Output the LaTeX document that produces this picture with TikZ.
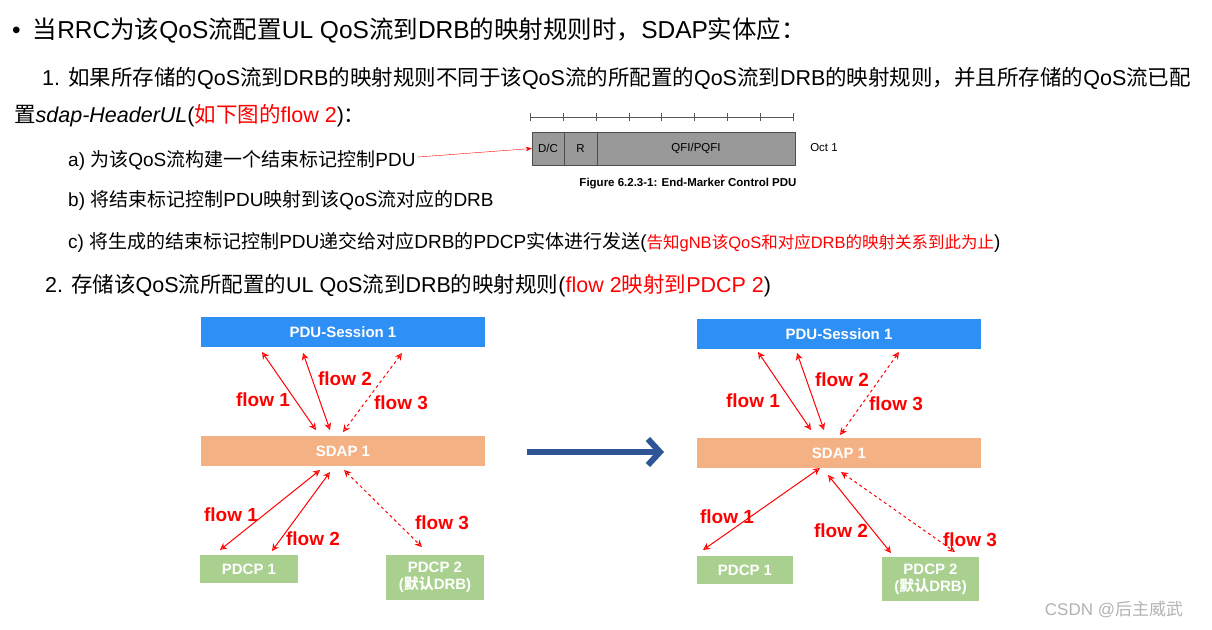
\documentclass[tikz,border=0pt]{standalone}
\usepackage{fontspec}
\setmainfont{Liberation Sans}
\newfontfamily\cjk{Noto Sans CJK SC}
\XeTeXinterchartokenstate=1
\newXeTeXintercharclass\CJKcls
\makeatletter
\count@="3000
\loop\XeTeXcharclass\count@=\CJKcls\advance\count@ 1\ifnum\count@<"A000\repeat
\count@="FF00
\loop\XeTeXcharclass\count@=\CJKcls\advance\count@ 1\ifnum\count@<"FFF0\repeat
\makeatother
\XeTeXinterchartoks 0 \CJKcls={\cjk}
\XeTeXinterchartoks 4095 \CJKcls={\cjk}
\XeTeXinterchartoks \CJKcls 0={\rmfamily}
\XeTeXinterchartoks \CJKcls 4095={\rmfamily}
\usetikzlibrary{arrows.meta}
\definecolor{rd}{HTML}{FF0000}
\definecolor{blu}{HTML}{2E8FF5}
\definecolor{org}{HTML}{F4B183}
\definecolor{grn}{HTML}{A9D08E}
\definecolor{dkb}{HTML}{2F5597}
\begin{document}
\begin{tikzpicture}[x=1pt,y=-1pt,
  txt/.style={anchor=west,inner sep=0pt,font=\fontsize{21.5}{24}\selectfont},
  sub/.style={txt,font=\fontsize{19}{22}\selectfont},
  box/.style={draw=none,inner sep=0pt,text=white,font=\fontsize{15}{17}\selectfont\bfseries},
  fl/.style={rd,line width=1pt,{Stealth[open,length=7pt,width=7pt]}-{Stealth[open,length=7pt,width=7pt]}},
  fld/.style={fl,dashed},
  lab/.style={text=rd,font=\fontsize{19}{21}\selectfont\bfseries,inner sep=0pt}]
\useasboundingbox (0,0) rectangle (1212,629);
\node[txt,font=\fontsize{24.5}{27}\selectfont] (t0) at (12,30) {•\hspace{12pt}当RRC为该QoS流配置UL QoS流到DRB的映射规则时，SDAP实体应：};
\node[txt] (t1) at (42,78) {1. 如果所存储的QoS流到DRB的映射规则不同于该QoS流的所配置的QoS流到DRB的映射规则，并且所存储的QoS流已配};
\node[txt] (t2) at (14,116) {置\textit{sdap-HeaderUL}(\textcolor{rd}{如下图的flow 2})：};
\node[sub] (ta) at (68,160) {a) 为该QoS流构建一个结束标记控制PDU};
\node[sub] (tb) at (68,200) {b) 将结束标记控制PDU映射到该QoS流对应的DRB};
\node[sub] (tc) at (68,242) {c) 将生成的结束标记控制PDU递交给对应DRB的PDCP实体进行发送(\textcolor{rd}{\fontsize{16.5}{19}\selectfont 告知gNB该QoS和对应DRB的映射关系到此为止})};
\node[txt] (t3) at (45,286) {2. 存储该QoS流所配置的UL QoS流到DRB的映射规则(\textcolor{rd}{flow 2映射到PDCP 2})};
% figure
\draw[gray!70!black] (530,117) -- (793,117);
\foreach \i in {0,...,8} \draw[gray!70!black] ({530+\i*32.9},113) -- ({530+\i*32.9},121);
\node[draw=black!70,fill=gray!80,minimum width=32pt,minimum height=33pt,inner sep=0pt,font=\fontsize{11.5}{13}\selectfont] (dc) at (548,148.5) {D/C};
\node[draw=black!70,fill=gray!80,minimum width=33pt,minimum height=33pt,inner sep=0pt,font=\fontsize{11.5}{13}\selectfont] (r) at (580.5,148.5) {R};
\node[draw=black!70,fill=gray!80,minimum width=198pt,minimum height=33pt,inner sep=0pt,font=\fontsize{11.5}{13}\selectfont] (q) at (696,148.5) {QFI/PQFI};
\node[font=\fontsize{11.5}{13}\selectfont] (oct) at (824,148) {Oct 1};
\node[font=\fontsize{11.5}{13}\selectfont\bfseries] (cap) at (688,184) {Figure 6.2.3-1: End-Marker Control PDU};
\coordinate (ae) at (418,157);
\draw[rd,-{Stealth[length=6pt]}] (ae) -- (dc.west);
% left diagram
\node[box,fill=blu,minimum width=284pt,minimum height=30pt] (p1) at (343,332) {PDU-Session 1};
\node[box,fill=org,minimum width=284pt,minimum height=30pt] (s1) at (343,451) {SDAP 1};
\node[box,fill=grn,minimum width=98pt,minimum height=28pt] (c1) at (249,569) {PDCP 1};
\node[box,fill=grn,minimum width=98pt,minimum height=45pt,align=center] (d1) at (435,577.5) {PDCP 2\\(默认DRB)};
\coordinate (a1) at (262,352); \coordinate (a2) at (316,430);
\coordinate (b1) at (303,353); \coordinate (b2) at (330,430);
\coordinate (e1) at (402,353); \coordinate (e2) at (343,432);
\coordinate (f1) at (320,470); \coordinate (f2) at (220,550);
\coordinate (g1) at (330,472); \coordinate (g2) at (272,551);
\coordinate (h1) at (344,470); \coordinate (h2) at (422,547);
\draw[fl] (a1) -- (a2); \draw[fl] (b1) -- (b2); \draw[fld] (e1) -- (e2);
\draw[fl] (f1) -- (f2); \draw[fl] (g1) -- (g2); \draw[fld] (h1) -- (h2);
\node[lab] at (263,400) {flow 1}; \node[lab] at (345,379) {flow 2}; \node[lab] at (401,403) {flow 3};
\node[lab] at (231,515) {flow 1}; \node[lab] at (313,539) {flow 2}; \node[lab] at (442,523) {flow 3};
% big arrow
\coordinate (m1) at (527,452); \coordinate (m2) at (664,452);
\draw[dkb,line width=6pt,-{Straight Barb[length=12pt,width=26pt,line width=6pt]}] (m1) -- (m2);
% right diagram
\node[box,fill=blu,minimum width=284pt,minimum height=30pt] (p2) at (839,334) {PDU-Session 1};
\node[box,fill=org,minimum width=284pt,minimum height=30pt] (s2) at (839,453) {SDAP 1};
\node[box,fill=grn,minimum width=96pt,minimum height=28pt] (c2) at (745,570) {PDCP 1};
\node[box,fill=grn,minimum width=97pt,minimum height=44pt,align=center] (d2) at (930.5,579) {PDCP 2\\(默认DRB)};
\coordinate (A1) at (758,352); \coordinate (A2) at (811,430);
\coordinate (B1) at (797,353); \coordinate (B2) at (824,430);
\coordinate (E1) at (899,352); \coordinate (E2) at (840,435);
\coordinate (F1) at (820,468); \coordinate (F2) at (703,550);
\coordinate (G1) at (828,475); \coordinate (G2) at (891,553);
\coordinate (H1) at (841,472); \coordinate (H2) at (955,552);
\draw[fl] (A1) -- (A2); \draw[fl] (B1) -- (B2); \draw[fld] (E1) -- (E2);
\draw[fl] (F1) -- (F2); \draw[fl] (G1) -- (G2); \draw[fld] (H1) -- (H2);
\node[lab] at (753,401) {flow 1}; \node[lab] at (842,380) {flow 2}; \node[lab] at (896,404) {flow 3};
\node[lab] at (727,517) {flow 1}; \node[lab] at (841,531) {flow 2}; \node[lab] at (970,540) {flow 3};
\node[text=gray!60,font=\fontsize{17}{19}\selectfont] (wm) at (1114,610) {CSDN @后主威武};
\end{tikzpicture}
\end{document}
